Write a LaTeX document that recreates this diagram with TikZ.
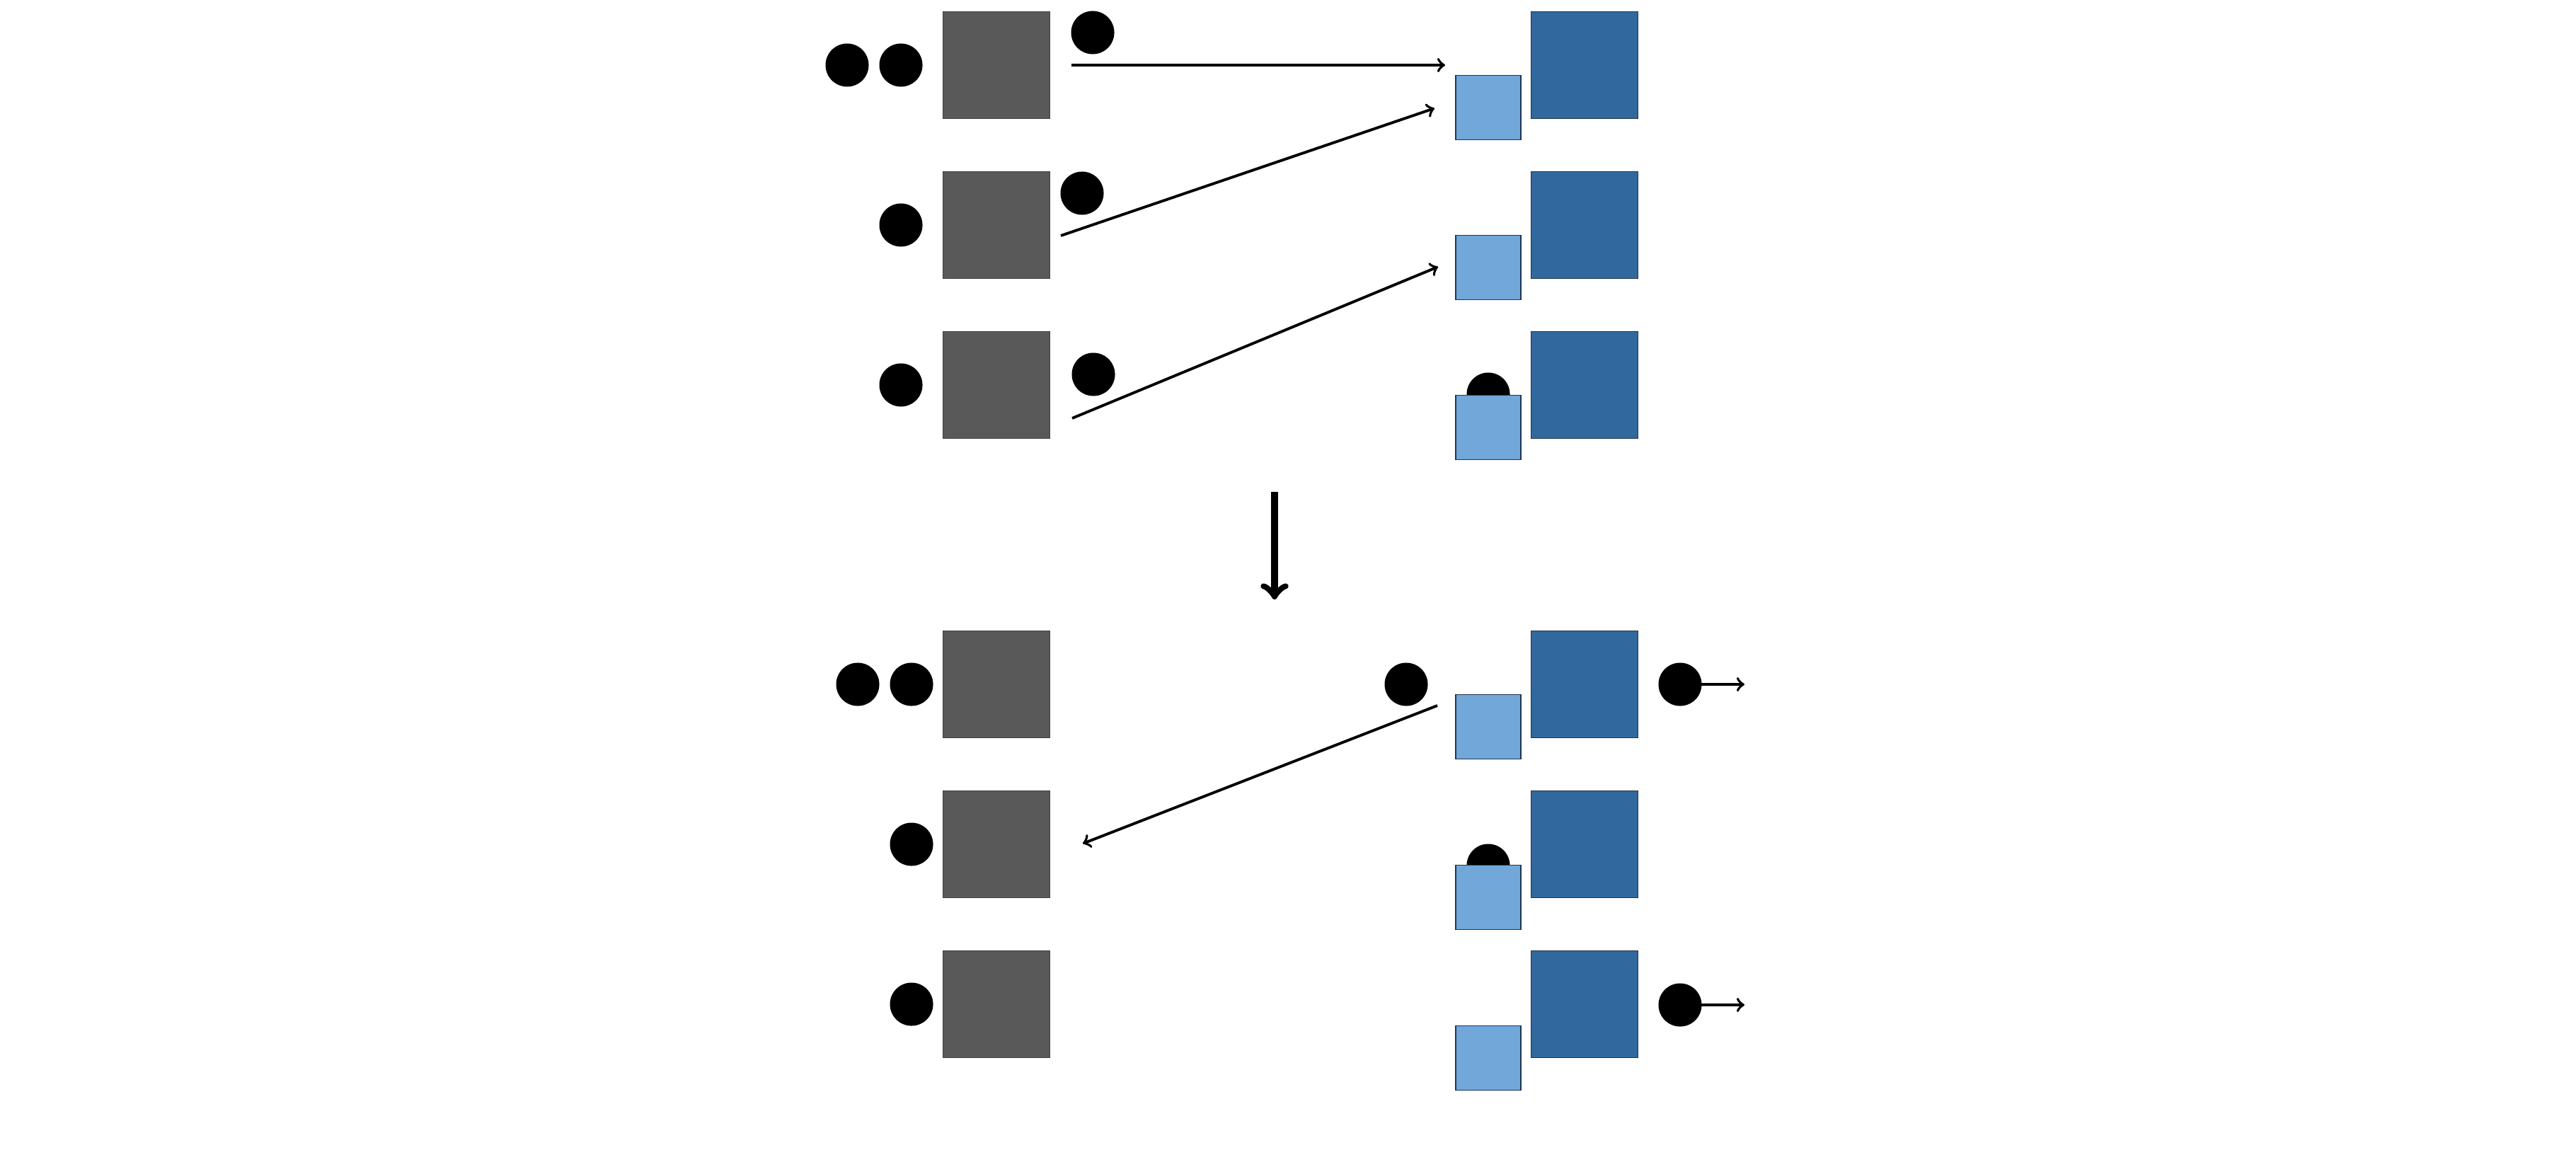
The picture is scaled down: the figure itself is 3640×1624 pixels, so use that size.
\documentclass[tikz,border=0pt]{standalone}
\usepackage{tikz}

\definecolor{gris}{HTML}{595959}
\definecolor{azul}{HTML}{31699E}
\definecolor{azulclaro}{HTML}{72A7DA}
\definecolor{borde}{HTML}{1E3550}

\begin{document}
\begin{tikzpicture}[x=0.01cm, y=-0.01cm,
  caja/.style={rectangle, draw=black!75, line width=0.5pt, fill=gris,
    minimum width=1.51cm, minimum height=1.51cm, inner sep=0pt},
  cajaazul/.style={caja, draw=borde, fill=azul},
  cajaclara/.style={caja, draw=borde, fill=azulclaro,
    minimum width=0.92cm, minimum height=0.91cm},
  bola/.style={circle, fill=black, minimum size=0.61cm, inner sep=0pt},
  flecha/.style={->, line width=1.1pt}]
\useasboundingbox (0,0) rectangle (3640,1624);

% Cajas de la parte de arriba
\node[caja] (grisA1) at (1408,92) {};
\node[caja] (grisA2) at (1408,318) {};
\node[caja] (grisA3) at (1408,544) {};
\node[cajaazul] (azulA1) at (2239,92) {};
\node[cajaazul] (azulA2) at (2239,318) {};
\node[cajaazul] (azulA3) at (2239,544) {};

% Bolas de arriba (la ultima queda detras de la caja clara)
\node[bola] (bA1) at (1197,92) {};
\node[bola] (bA2) at (1273,92) {};
\node[bola] (bA3) at (1544,46) {};
\node[bola] (bA4) at (1273,318) {};
\node[bola] (bA5) at (1529,273) {};
\node[bola] (bA6) at (1273,544) {};
\node[bola] (bA7) at (1545,529) {};
\node[bola] (bA8) at (2103,557) {};

\node[cajaclara] (claraA1) at (2103,152) {};
\node[cajaclara] (claraA2) at (2103,378) {};
\node[cajaclara] (claraA3) at (2103,604) {};

% Flechas de arriba
\coordinate (iniA1) at (1514,92);
\coordinate (finA1) at (2042,92);
\coordinate (iniA2) at (1499,333);
\coordinate (finA2) at (2027,153);
\coordinate (iniA3) at (1515,591);
\coordinate (finA3) at (2032,377);
\draw[flecha] (iniA1) -- (finA1);
\draw[flecha] (iniA2) -- (finA2);
\draw[flecha] (iniA3) -- (finA3);

% Flecha gruesa hacia abajo
\coordinate (paso1) at (1801,695);
\coordinate (paso2) at (1801,847);
\draw[->, line width=2.8pt] (paso1) -- (paso2);

% Cajas de la parte de abajo
\node[caja] (grisB1) at (1408,967) {};
\node[caja] (grisB2) at (1408,1193) {};
\node[caja] (grisB3) at (1408,1419) {};
\node[cajaazul] (azulB1) at (2239,967) {};
\node[cajaazul] (azulB2) at (2239,1193) {};
\node[cajaazul] (azulB3) at (2239,1419) {};

% Bolas de abajo
\node[bola] (bB1) at (1212,967) {};
\node[bola] (bB2) at (1288,967) {};
\node[bola] (bB3) at (1987,967) {};
\node[bola] (bB4) at (2374,967) {};
\node[bola] (bB5) at (1288,1193) {};
\node[bola] (bB6) at (2103,1223) {};
\node[bola] (bB7) at (1288,1419) {};
\node[bola] (bB8) at (2374,1420) {};

\node[cajaclara] (claraB1) at (2103,1027) {};
\node[cajaclara] (claraB2) at (2103,1268) {};
\node[cajaclara] (claraB3) at (2103,1495) {};

% Flechas de abajo
\coordinate (iniB1) at (2031,997);
\coordinate (finB1) at (1530,1192);
\coordinate (salB1) at (2465,967);
\coordinate (salB2) at (2465,1420);
\draw[flecha] (iniB1) -- (finB1);
\draw[flecha] (bB4.center) -- (salB1);
\draw[flecha] (bB8.center) -- (salB2);
\end{tikzpicture}
\end{document}
